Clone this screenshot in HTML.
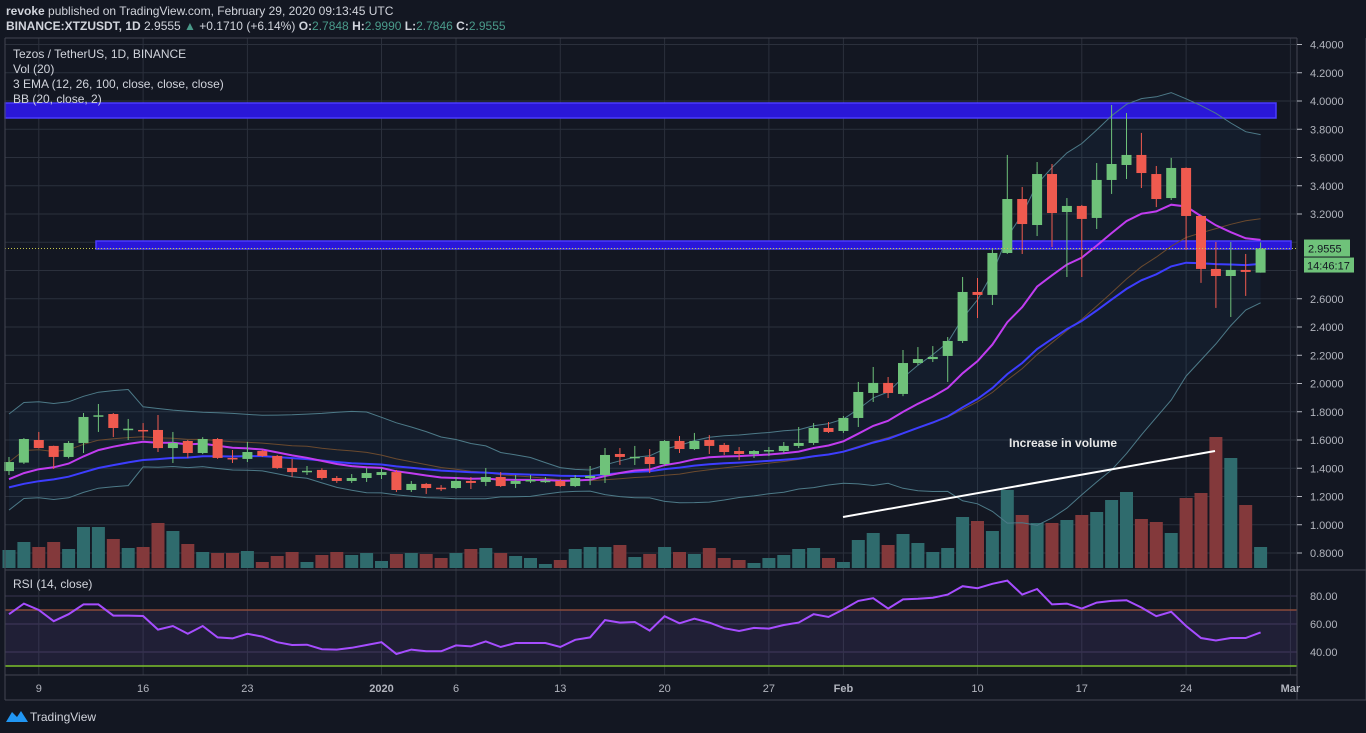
<!DOCTYPE html>
<html><head><meta charset="utf-8"><style>
html,body{margin:0;padding:0;background:#131722;width:1366px;height:733px;overflow:hidden;font-family:"Liberation Sans",sans-serif}
svg text{font-family:"Liberation Sans",sans-serif}
</style></head><body>
<svg id="chart" width="1366" height="733" viewBox="0 0 1366 733" xmlns="http://www.w3.org/2000/svg">
<rect x="0" y="0" width="1366" height="733" fill="#131722"/>
<text x="6" y="15" font-size="12" fill="#d1d4dc"><tspan font-weight="bold">revoke</tspan> published on TradingView.com, February 29, 2020 09:13:45 UTC</text>
<text x="6" y="30" font-size="12" fill="#d1d4dc"><tspan font-weight="bold">BINANCE:XTZUSDT, 1D</tspan>  2.9555 <tspan fill="#4a9a8a">▲</tspan> +0.1710 (+6.14%) <tspan font-weight="bold">O:</tspan><tspan fill="#4a9a8a">2.7848</tspan> <tspan font-weight="bold">H:</tspan><tspan fill="#4a9a8a">2.9990</tspan> <tspan font-weight="bold">L:</tspan><tspan fill="#4a9a8a">2.7846</tspan> <tspan font-weight="bold">C:</tspan><tspan fill="#4a9a8a">2.9555</tspan></text>
<g id="grid"></g>
<g id="bbfill"></g>
<g id="zones">
<rect x="5" y="103" width="1271" height="15" fill="#2a17d8" stroke="#4a3cff" stroke-width="1.5"/>
<rect x="96" y="241" width="1195" height="8" fill="#2a17d8" stroke="#4a3cff" stroke-width="1.5"/>
</g>
<g id="vol"></g>
<g id="lines"></g>
<g id="candles"></g>
<g id="rsi"></g>
<g id="axes"></g>
<line x1="843" y1="517" x2="1215" y2="451" stroke="#ffffff" stroke-width="2"/>
<text x="1009" y="447" font-size="12" font-weight="bold" fill="#e8e8e8">Increase in volume</text>
<text x="13" y="58" font-size="12" fill="#d1d4dc">Tezos / TetherUS, 1D, BINANCE</text>
<text x="13" y="73" font-size="12" fill="#d1d4dc">Vol (20)</text>
<text x="13" y="88" font-size="12" fill="#d1d4dc">3 EMA (12, 26, 100, close, close, close)</text>
<text x="13" y="103" font-size="12" fill="#d1d4dc">BB (20, close, 2)</text>
<text x="13" y="588" font-size="12" fill="#d1d4dc">RSI (14, close)</text>
<g>
<path d="M6 722 L12 712 L17 717 L21 711 L28 722 Z" fill="#2196f3"/>
<text x="30" y="721" font-size="12" fill="#d1d4dc">TradingView</text>
</g>
</svg>
<script>
const opens=[1.38,1.44,1.60,1.558,1.48,1.579,1.77,1.784,1.678,1.671,1.671,1.543,1.593,1.508,1.607,1.473,1.466,1.522,1.487,1.402,1.378,1.388,1.331,1.310,1.331,1.352,1.373,1.246,1.289,1.262,1.260,1.310,1.303,1.338,1.289,1.315,1.310,1.310,1.274,1.331,1.352,1.501,1.479,1.480,1.430,1.593,1.536,1.600,1.565,1.522,1.501,1.527,1.522,1.558,1.579,1.685,1.664,1.756,1.933,2.004,1.926,2.145,2.173,2.195,2.301,2.648,2.627,2.924,3.306,3.122,3.483,3.214,3.257,3.172,3.441,3.547,3.618,3.483,3.313,3.526,3.186,2.811,2.761,2.804,2.785];
const highs=[1.48,1.614,1.657,1.56,1.593,1.791,1.855,1.791,1.749,1.72,1.777,1.657,1.60,1.62,1.614,1.529,1.586,1.53,1.494,1.466,1.416,1.40,1.345,1.359,1.402,1.402,1.388,1.310,1.296,1.281,1.338,1.338,1.402,1.373,1.352,1.352,1.338,1.324,1.352,1.416,1.543,1.543,1.558,1.536,1.60,1.628,1.650,1.635,1.579,1.550,1.529,1.550,1.586,1.692,1.720,1.727,1.770,2.011,2.117,2.046,2.237,2.258,2.265,2.329,2.754,2.747,2.952,3.618,3.391,3.568,3.554,3.313,3.264,3.561,3.972,3.915,3.774,3.540,3.597,3.53,3.19,3.002,3.002,2.917,2.999];
const lows=[1.352,1.43,1.54,1.395,1.47,1.508,1.657,1.621,1.60,1.60,1.515,1.437,1.473,1.50,1.466,1.437,1.444,1.48,1.395,1.338,1.352,1.32,1.296,1.296,1.303,1.324,1.232,1.232,1.218,1.239,1.253,1.253,1.274,1.267,1.260,1.296,1.296,1.267,1.267,1.281,1.296,1.423,1.423,1.366,1.42,1.508,1.529,1.501,1.494,1.458,1.473,1.487,1.508,1.543,1.565,1.650,1.650,1.692,1.869,1.897,1.911,2.131,2.152,2.011,2.287,2.464,2.556,2.917,2.917,3.044,2.966,2.754,2.754,3.094,3.342,3.448,3.384,3.249,3.299,2.945,2.712,2.535,2.471,2.620,2.785];
const closes=[1.444,1.607,1.543,1.480,1.579,1.763,1.775,1.685,1.680,1.668,1.543,1.579,1.508,1.607,1.473,1.470,1.515,1.487,1.402,1.373,1.382,1.331,1.310,1.331,1.366,1.373,1.246,1.289,1.260,1.260,1.310,1.296,1.338,1.274,1.310,1.317,1.312,1.274,1.331,1.345,1.494,1.480,1.481,1.430,1.593,1.536,1.593,1.558,1.515,1.501,1.522,1.529,1.558,1.579,1.685,1.657,1.756,1.940,2.004,1.933,2.145,2.173,2.188,2.301,2.648,2.627,2.924,3.306,3.129,3.483,3.207,3.257,3.165,3.441,3.554,3.618,3.490,3.306,3.526,3.186,2.811,2.761,2.804,2.790,2.9555];
const volumes=[18,26,21,26,19,41,41,29,20,21,45,37,24,16,15,15,17,6,12,16,6,13,16,13,15,7,14,15,14,10,15,19,20,15,12,10,4,8,19,21,21,23,11,14,21,16,14,20,10,8,5,10,13,19,20,10,6,28,35,23,34,25,16,20,51,47,37,78,53,45,45,48,53,56,68,76,49,46,35,70,75,131,110,63,21];
const rsiValues=[67,74.6,70,62,67,74,74,66,66,65.7,56,58.6,53,58.6,50.4,49.7,53,51,47,45,45.2,42,41.7,43,45,47,38.6,41.7,40.5,40.5,44.7,44,47.6,43.6,46.4,46.4,46.4,43.6,48.7,50.4,62.8,61,61.4,55.3,65.6,60.5,63.8,61,57,55,57.2,56.7,59.3,61,67,65,70.4,76.5,78.4,71,77.6,78,78.8,81,87,85.6,88.7,91,81,85,74,74.6,71,75.3,76.5,77,71.8,65.6,68.7,58.6,50,48.2,50,50,54];
const priceTicks=[4.4,4.2,4.0,3.8,3.6,3.4,3.2,3.0,2.8,2.6,2.4,2.2,2.0,1.8,1.6,1.4,1.2,1.0,0.8];
const rsiTicks=[80,60,40];
const dateLabels=["9","16","23","2020","6","13","20","27","Feb","10","17","24","Mar"];
const dateIndex=[2,9,16,25,30,37,44,51,56,65,72,79,86.0];
const emaSeed12=1.30, emaSeed26=1.25;

const NS="http://www.w3.org/2000/svg";
function xOf(i){return 9+i*14.9;}
function yP(p){return 553-(p-0.8)*141.25;}
function yR(r){return 596+(80-r)*1.4;}
function yV(v){return 568-v;}
function mk(tag,attrs,parent){const e=document.createElementNS(NS,tag);for(const k in attrs)e.setAttribute(k,attrs[k]);parent.appendChild(e);return e;}
const G=id=>document.getElementById(id);

const grid=G('grid');
priceTicks.forEach(p=>{const l=mk('line',{x1:5,x2:1297,y1:yP(p),y2:yP(p),stroke:'#2b303c','stroke-width':1},grid);

});
rsiTicks.forEach(r=>{const l=mk('line',{x1:5,x2:1297,y1:yR(r),y2:yR(r),stroke:'#3a3550','stroke-width':1},grid);

});
dateIndex.forEach(i=>{const x=xOf(i);const l=mk('line',{x1:x,x2:x,y1:38,y2:675,stroke:'#2b303c','stroke-width':1},grid);

});

const n=closes.length;
const ema12=[],ema26=[];
let e12=emaSeed12,e26=emaSeed26;
for(let i=0;i<n;i++){e12=e12+(closes[i]-e12)*2/13;e26=e26+(closes[i]-e26)*2/27;ema12.push(e12);ema26.push(e26);}
const bbMid=[],bbUp=[],bbLo=[];
for(let i=0;i<n;i++){const s=closes.slice(Math.max(0,i-19),i+1);const m=s.reduce((a,b)=>a+b,0)/s.length;
let sd=Math.sqrt(s.reduce((a,b)=>a+(b-m)*(b-m),0)/s.length);if(s.length<10)sd=Math.max(sd,0.17);
bbMid.push(m);bbUp.push(m+2*sd);bbLo.push(m-2*sd);}
function pts(arr,fy){return arr.map((v,i)=>xOf(i).toFixed(1)+','+fy(v).toFixed(1)).join(' ');}
const fill=mk('polygon',{points:pts(bbUp,yP)+' '+bbLo.map((v,i)=>xOf(i).toFixed(1)+','+yP(v).toFixed(1)).reverse().join(' '),fill:'rgba(33,150,243,0.05)'},G('bbfill'));



const vg=G('vol');
volumes.forEach((v,i)=>{const up=closes[i]>=opens[i];const r=mk('rect',{x:xOf(i)-6.5,y:yV(v),width:13,height:v,fill:up?'#2f6b6d':'#83393b'},vg);

});

const lg=G('lines');
[[bbUp,'#4d7a88',1,'bb-upper'],[bbLo,'#4d7a88',1,'bb-lower'],[bbMid,'#6b4a2e',1,'bb-basis'],[ema26,'#3d3dff',2,'ema-26'],[ema12,'#c13cf0',2,'ema-12']].forEach(([a,c,w,nm])=>{
const pl=mk('polyline',{points:pts(a,yP),fill:'none',stroke:c,'stroke-width':w},lg);

});

const cg=G('candles');
for(let i=0;i<n;i++){const up=closes[i]>=opens[i];const col=up?'#6fc27a':'#ef5a4f';const x=xOf(i);
const w=mk('line',{x1:x,x2:x,y1:yP(highs[i]),y2:yP(lows[i]),stroke:col,'stroke-width':1},cg);


const t=yP(Math.max(opens[i],closes[i])),b=yP(Math.min(opens[i],closes[i]));
const r=mk('rect',{x:x-5,y:t,width:10,height:Math.max(1.5,b-t),fill:col},cg);

}

const pl=mk('line',{x1:5,x2:1297,y1:yP(closes[n-1]),y2:yP(closes[n-1]),stroke:'#c8c84a','stroke-width':1,'stroke-dasharray':'1,2'},cg);



const rg=G('rsi');
const band=mk('rect',{x:5,y:yR(70),width:1292,height:yR(30)-yR(70),fill:'rgba(126,87,194,0.13)'},rg);


const l70=mk('line',{x1:5,x2:1297,y1:yR(70),y2:yR(70),stroke:'#8a4a3a','stroke-width':1.5},rg);


const l30=mk('line',{x1:5,x2:1297,y1:yR(30),y2:yR(30),stroke:'#7cc22a','stroke-width':1.5},rg);


const rl=mk('polyline',{points:pts(rsiValues,yR),fill:'none',stroke:'#a64dff','stroke-width':2},rg);



const ag=G('axes');
[[5,38,1297,38],[5,38,5,700],[1297,38,1297,700],[5,570,1366,570],[5,675,1297,675],[5,700,1366,700],[1366,38,1366,700]].forEach(c=>{
const l=mk('line',{x1:c[0],y1:c[1],x2:c[2],y2:c[3],stroke:'#434651','stroke-width':1},ag);

});
priceTicks.forEach(p=>{if(p===3.0||p===2.8)return;
const t=mk('text',{x:1310,y:yP(p)+4,'font-size':11,fill:'#b2b5be'},ag);t.textContent=p.toFixed(4);


const k=mk('line',{x1:1297,x2:1302,y1:yP(p),y2:yP(p),stroke:'#b2b5be'},ag);

});
rsiTicks.forEach(r=>{const t=mk('text',{x:1310,y:yR(r)+4,'font-size':11,fill:'#b2b5be'},ag);t.textContent=r.toFixed(2);

});
dateLabels.forEach((s,j)=>{const i=dateIndex[j];const x=xOf(i);
const t=mk('text',{x:x,y:692,'font-size':11,'font-weight':(s==='2020'||s==='Feb'||s==='Mar')?'bold':'normal',fill:'#b2b5be','text-anchor':'middle'},ag);t.textContent=s;

});
const pb=mk('rect',{x:1304,y:yP(closes[n-1])-9,width:46,height:17,fill:'#6fc27a'},ag);


const pt=mk('text',{x:1308,y:yP(closes[n-1])+4,'font-size':11,fill:'#131722'},ag);pt.textContent=closes[n-1].toFixed(4);


const cb=mk('rect',{x:1304,y:yP(closes[n-1])+9,width:50,height:15,fill:'#6fc27a'},ag);


const ct=mk('text',{x:1307,y:yP(closes[n-1])+21,'font-size':11,fill:'#131722'},ag);ct.textContent='14:46:17';


</script>
</body></html>
